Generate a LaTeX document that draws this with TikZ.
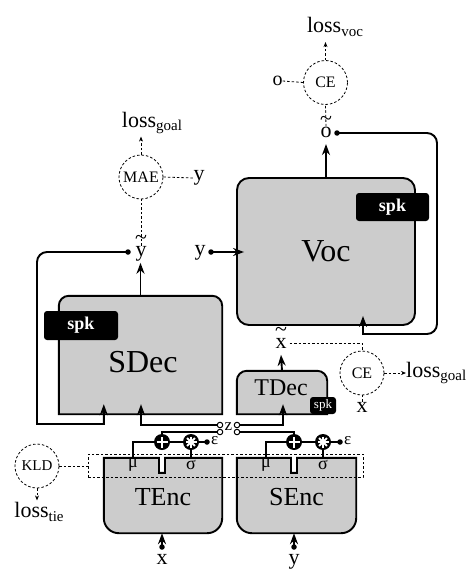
\documentclass[tikz,border=0pt]{standalone}
\usepackage{fontspec}
\setmainfont{Liberation Serif}
\usetikzlibrary{arrows.meta,calc}
\definecolor{boxgray}{RGB}{204,204,204}
\newcommand{\fs}[1]{\fontsize{#1}{#1}\selectfont}
\newcommand{\lossof}[1]{loss\raisebox{-0.35ex}{\fs{15}#1}}
\newcommand{\tld}[1]{\ooalign{#1\cr\hidewidth\raisebox{0.52em}{\textasciitilde}\hidewidth\cr}}
\begin{document}
\begin{tikzpicture}[x=1pt,y=-1pt,
  conn/.style={line width=1.9pt},
  arr/.style={-{Stealth[length=11pt,width=8pt]}},
  dsh/.style={line width=0.8pt,dash pattern=on 2.5pt off 2pt},
  darr/.style={-{Stealth[length=5pt,width=4pt]}},
  blk/.style={line width=1.9pt,fill=boxgray},
  frame/.style={inner sep=0pt},
  spkbox/.style={fill=black,rounded corners=3pt,text=white,inner sep=0pt,font=\fs{18}\bfseries},
  lossc/.style={circle,draw,dsh,minimum size=44pt,inner sep=0pt,font=\fs{16}},
  lbl/.style={inner sep=0pt,font=\fs{22}},
  big/.style={inner sep=0pt,font=\fs{32}},
  fdot/.style={circle,fill=black,minimum size=5.5pt,inner sep=0pt},
  odot/.style={circle,draw,fill=white,line width=1pt,minimum size=5.5pt,inner sep=0pt},
  plusn/.style={circle,fill=black,minimum size=16pt,inner sep=0pt,
     path picture={\draw[white,line width=2.4pt]
       ([xshift=-5.5pt]path picture bounding box.center) -- ([xshift=5.5pt]path picture bounding box.center)
       ([yshift=-5.5pt]path picture bounding box.center) -- ([yshift=5.5pt]path picture bounding box.center);}},
  astn/.style={circle,fill=black,minimum size=16pt,inner sep=0pt,
     path picture={\foreach \a in {0,45,90,135}{\draw[white,line width=1.9pt]
       ($(path picture bounding box.center)+(\a:5.5pt)$) -- ($(path picture bounding box.center)+(\a+180:5.5pt)$);}}}
]
\useasboundingbox (0,0) rectangle (474,578);

% ---------- SDec ----------
\node[frame,minimum width=163pt,minimum height=118pt] (sdec) at (140.5,355) {};
\draw[blk] (sdec.south west) -- ([yshift=-10pt]sdec.north west) arc[start angle=180,end angle=90,radius=10pt]
  -- ([xshift=-10pt]sdec.north east) arc[start angle=90,end angle=0,radius=10pt] -- (sdec.south east) -- cycle;
\node[big] (sdect) at (143,362) {SDec};
\node[spkbox,minimum width=74pt,minimum height=29pt] (spka) at (81,325.5) {spk};

% ---------- Voc ----------
\node[draw,blk,rounded corners=12pt,minimum width=178pt,minimum height=147pt,font=\fs{32},inner sep=0pt] (voc) at (326,251.5) {Voc};
\node[spkbox,minimum width=73pt,minimum height=28pt] (spkb) at (392.5,207) {spk};

% ---------- TDec ----------
\node[frame,minimum width=90pt,minimum height=43pt] (tdec) at (282,392.5) {};
\draw[blk] (tdec.south west) -- ([yshift=-10pt]tdec.north west) arc[start angle=180,end angle=90,radius=10pt]
  -- ([xshift=-10pt]tdec.north east) arc[start angle=90,end angle=0,radius=10pt] -- (tdec.south east) -- cycle;
\node[inner sep=0pt,font=\fs{24}] (tdect) at (281,388) {TDec};
\node[spkbox,minimum width=26pt,minimum height=17pt,font=\fs{13}] (spkc) at (323,405.5) {spk};

% ---------- Encoders ----------
\node[frame,minimum width=118pt,minimum height=75pt] (tenc) at (163,495.5) {};
\node[frame,minimum width=119pt,minimum height=75pt] (senc) at (296.5,495.5) {};
\node[plusn] (plusa) at (162,442) {};
\node[astn] (asta) at (191,442) {};
\node[fdot] (epsda) at (207,442) {};
\node[anchor=west,inner sep=0pt,font=\fs{17}] (epsa) at (211,441) {ε};
\node[plusn] (plusb) at (294,442) {};
\node[astn] (astb) at (323,442) {};
\node[fdot] (epsdb) at (340,442) {};
\node[anchor=west,inner sep=0pt,font=\fs{17}] (epsb) at (344,441) {ε};

\draw[blk] (tenc.north west) -- ($(plusa |- tenc.north)+(-3,0)$) -- ++(0,15) -- ++(6,0) -- ++(0,-15)
  -- (tenc.north east) -- ([yshift=15pt]tenc.south east) arc[start angle=0,end angle=-90,radius=15pt]
  -- ([xshift=15pt]tenc.south west) arc[start angle=270,end angle=180,radius=15pt] -- cycle;
\draw[blk] (senc.north west) -- ($(plusb |- senc.north)+(-3,0)$) -- ++(0,15) -- ++(6,0) -- ++(0,-15)
  -- (senc.north east) -- ([yshift=15pt]senc.south east) arc[start angle=0,end angle=-90,radius=15pt]
  -- ([xshift=15pt]senc.south west) arc[start angle=270,end angle=180,radius=15pt] -- cycle;
\node[inner sep=0pt,font=\fs{26}] (tenct) at (163,497) {TEnc};
\node[inner sep=0pt,font=\fs{26}] (senct) at (296.5,497) {SEnc};

\node[inner sep=0pt,font=\fs{18}] (mua) at (133,465) {μ};
\node[inner sep=0pt,font=\fs{18}] (siga) at (191,465) {σ};
\node[inner sep=0pt,font=\fs{18}] (mub) at (266,465) {μ};
\node[inner sep=0pt,font=\fs{18}] (sigb) at (323,465) {σ};

\draw[conn] (mua.north |- tenc.north) |- (plusa.west);
\draw[conn] (asta.west) -- (plusa.east);
\draw[conn] (epsda.center) -- (asta.east);
\draw[conn] (asta.south) -- (asta |- tenc.north);
\draw[conn] (mub.north |- senc.north) |- (plusb.west);
\draw[conn] (astb.west) -- (plusb.east);
\draw[conn] (epsdb.center) -- (astb.east);
\draw[conn] (astb.south) -- (astb |- senc.north);

% ---------- KLD ----------
\node[draw,dsh,minimum width=275pt,minimum height=23pt,inner sep=0pt] (kbox) at (225.5,465.5) {};
\node[lossc,font=\fs{15}] (kld) at (37,466) {KLD};
\node[lbl] (ltie) at (39,512) {\lossof{tie}};
\draw[dsh] (kld.east) -- (kbox.west |- kld.east);
\draw[dsh,darr] (kld.south) -- ($(kld.south)+(0,12)$);

% ---------- z junction ----------
\node[odot] (zla) at (220,425) {};
\node[odot] (zlb) at (220,432) {};
\node[odot] (zra) at (237,425) {};
\node[odot] (zrb) at (237,432) {};
\node[inner sep=0pt,font=\fs{17}] (zt) at (228.5,427) {z};
\draw[conn] (plusa.north) |- (zlb.west);
\draw[conn] (plusb.north) |- (zrb.east);
\draw[conn,arr] (zla.west) -| ($(sdec.south)+(0.5,-10)$);
\draw[conn,arr] (zra.east) -| ($(tdec.south)+(1,-10)$);

% ---------- inputs ----------
\node[fdot] (xdot) at (162,547) {};
\node[lbl,anchor=base] (xin) at (162,564) {x};
\draw[conn,arr] (xdot.center) -- (xdot |- tenc.south);
\node[fdot] (ydotin) at (294,547) {};
\node[lbl,anchor=base] (yin) at (294,564) {y};
\draw[conn,arr] (ydotin.center) -- (ydotin |- senc.south);

% ---------- SDec output / loop ----------
\node[lbl,anchor=base] (ytil) at (141,256) {\tld{y}};
\node[fdot] (ydot) at (128,252) {};
\coordinate (lc) at (37,424);
\draw[conn,arr] (ydot.center) -- ($(lc |- ydot)+(10,0)$) arc[start angle=90,end angle=180,radius=10pt]
  -- (lc) -| ($(tenc.north west |- sdec.south)+(0,-10)$);
\draw[conn,arr] (sdec.north) -- ($(sdec.north)+(0,-33)$);

% ---------- MAE ----------
\node[lossc] (mae) at (141,177) {MAE};
\node[lbl] (ymae) at (199,178) {y};
\node[lbl] (lga) at (152,123) {\lossof{goal}};
\draw[dsh] (ytil.north) -- (mae.south);
\draw[dsh] (mae.east) -- (ymae.west);
\draw[dsh,darr] (mae.north) -- ($(mae.north)+(0,-18)$);

% ---------- Voc input / output ----------
\node[lbl] (yv) at (200,253) {y};
\node[fdot] (ydotv) at (211,252) {};
\draw[conn,arr] (ydotv.center) -- ($(voc.west |- ydotv)+(8,0)$);
\draw[conn,arr] (voc.north) -- ($(voc.north)+(0,-33)$);
\node[lbl,anchor=base] (otil) at (326,137) {\tld{o}};
\node[fdot] (odt) at (337,133) {};
\coordinate (vra) at (437,133);
\coordinate (vrb) at (437,334);
\coordinate (vrc) at (363,334);
\draw[conn,arr] (odt.center) -- ($(vra)+(-10,0)$) arc[start angle=90,end angle=0,radius=10pt]
  -- ($(vrb)+(0,-10)$) arc[start angle=0,end angle=-90,radius=10pt] -- (vrc) -- ($(vrc |- voc.south)+(0,-10)$);

% ---------- CE (voc) ----------
\node[lossc] (cea) at (325.5,82.5) {CE};
\node[inner sep=0pt,font=\fs{20}] (ol) at (277.5,81) {o};
\node[lbl] (lvoc) at (335,27) {\lossof{voc}};
\draw[dsh] (otil.north) -- (cea.south);
\draw[dsh] (ol.east) -- (cea.west);
\draw[dsh,darr] (cea.north) -- ($(cea.north)+(0,-18)$);

% ---------- TDec output / CE (goal) ----------
\node[lbl,anchor=base] (xtil) at (281,348) {\tld{x}};
\draw[conn,arr] (tdec.north) -- ($(tdec.north)+(-1,-16)$);
\node[lossc] (ceb) at (362,373) {CE};
\node[lbl,anchor=base] (xce) at (362,412) {x};
\node[lbl,anchor=west] (lgb) at (406,373) {\lossof{goal}};
\draw[dsh] ($(xtil.base east)+(3,-5)$) -| (ceb.north);
\draw[dsh] (xce.north) -- (ceb.south);
\draw[dsh,darr] (ceb.east) -- (lgb.west);
\end{tikzpicture}
\end{document}
